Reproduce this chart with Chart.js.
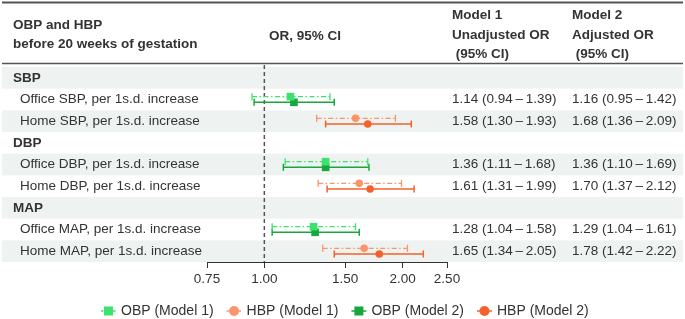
<html>
<head>
<script src="https://cdn.jsdelivr.net/npm/chart.js"></script>
<style>
  body { margin: 0; background: #fff; }
</style>
</head>
<body>
<canvas id="myChart" width="685" height="319"></canvas>
<script>
// rows of the table (top to bottom)
const rowLabels = ['SBP', 'Office SBP, per 1s.d. increase', 'Home SBP, per 1s.d. increase',
                   'DBP', 'Office DBP, per 1s.d. increase', 'Home DBP, per 1s.d. increase',
                   'MAP', 'Office MAP, per 1s.d. increase', 'Home MAP, per 1s.d. increase'];
const groupRows = [0, 3, 6];
const itemRows = [1, 2, 4, 5, 7, 8];
const itemType = ['OBP', 'HBP', 'OBP', 'HBP', 'OBP', 'HBP'];

// Model 1 (unadjusted)
const m1Or = [1.14, 1.58, 1.36, 1.61, 1.28, 1.65];
const m1Lo = [0.94, 1.30, 1.11, 1.31, 1.04, 1.34];
const m1Hi = [1.39, 1.93, 1.68, 1.99, 1.58, 2.05];
// Model 2 (adjusted)
const m2Or = [1.16, 1.68, 1.36, 1.70, 1.29, 1.78];
const m2Lo = [0.95, 1.36, 1.10, 1.37, 1.04, 1.42];
const m2Hi = [1.42, 2.09, 1.69, 2.12, 1.61, 2.22];

const xTicks = [0.75, 1.00, 1.50, 2.00, 2.50];

const FONT = '"Liberation Sans", Arial, sans-serif';
const TXT = '#333333';
const colors = {
  'OBP1': '#3be36c', 'HBP1': '#f9956a',
  'OBP2': '#17a83d', 'HBP2': '#f5612d'
};
const OFF = 0.13;

function fmt(v) { return v.toFixed(2); }

// CI lines for one type/model, separated by null points
function ciData(type, lo, hi, off) {
  let d = [];
  for (let i = 0; i < itemRows.length; i++) {
    if (itemType[i] != type) continue;
    d.push({x: lo[i], y: itemRows[i] + off});
    d.push({x: hi[i], y: itemRows[i] + off});
    d.push({x: null, y: null});
  }
  return d;
}
function ptData(type, or, off) {
  let d = [];
  for (let i = 0; i < itemRows.length; i++) {
    if (itemType[i] == type) d.push({x: or[i], y: itemRows[i] + off});
  }
  return d;
}

function ciSet(label, type, lo, hi, off, color, dash, w) {
  return {
    label: label, type: 'scatter', showLine: true,
    data: ciData(type, lo, hi, off),
    borderColor: color, borderWidth: w, borderDash: dash,
    pointStyle: 'line', rotation: 90, pointRadius: 3.5, pointHoverRadius: 3.5,
    pointBorderColor: color, pointBorderWidth: w, pointBackgroundColor: color
  };
}
function ptSet(label, type, or, off, color, style, r) {
  return {
    label: label, type: 'scatter',
    data: ptData(type, or, off),
    pointStyle: style, pointRadius: r, pointHoverRadius: r,
    backgroundColor: color, borderColor: color, borderWidth: 0
  };
}

const datasets = [
  ciSet('c1', 'OBP', m1Lo, m1Hi, -OFF, colors.OBP1, [5, 2.5, 1.5, 2.5], 1.3),
  ciSet('c2', 'HBP', m1Lo, m1Hi, -OFF, colors.HBP1, [5, 2.5, 1.5, 2.5], 1.3),
  ciSet('c3', 'OBP', m2Lo, m2Hi, OFF, colors.OBP2, [], 1.5),
  ciSet('c4', 'HBP', m2Lo, m2Hi, OFF, colors.HBP2, [], 1.5),
  ptSet('OBP (Model 1)', 'OBP', m1Or, -OFF, colors.OBP1, 'rect', 5.4),
  ptSet('HBP (Model 1)', 'HBP', m1Or, -OFF, colors.HBP1, 'circle', 3.8),
  ptSet('OBP (Model 2)', 'OBP', m2Or, OFF, colors.OBP2, 'rect', 5.4),
  ptSet('HBP (Model 2)', 'HBP', m2Or, OFF, colors.HBP2, 'circle', 3.8)
];

const tablePlugin = {
  id: 'table',
  beforeDraw(chart) {
    const ctx = chart.ctx;
    const ys = chart.scales.y;
    ctx.save();
    ctx.fillStyle = '#fff';
    ctx.fillRect(0, 0, chart.width, chart.height);
    // row shading
    ctx.fillStyle = '#eef3f1';
    for (let r = 0; r < rowLabels.length; r += 2) {
      const t = ys.getPixelForValue(r - 0.5), b = ys.getPixelForValue(r + 0.5);
      ctx.fillRect(2, t, 681, b - t);
    }
    // header lines
    ctx.strokeStyle = '#555';
    ctx.lineWidth = 2;
    ctx.beginPath(); ctx.moveTo(2, 2.5); ctx.lineTo(683, 2.5); ctx.stroke();
    ctx.lineWidth = 1.6;
    ctx.beginPath(); ctx.moveTo(2, 63.5); ctx.lineTo(683, 63.5); ctx.stroke();
    ctx.restore();
  },
  beforeDatasetsDraw(chart) {
    const ctx = chart.ctx;
    const x = chart.scales.x.getPixelForValue(1);
    ctx.save();
    ctx.strokeStyle = '#555';
    ctx.lineWidth = 1.5;
    ctx.setLineDash([4, 3]);
    ctx.beginPath(); ctx.moveTo(x, 65); ctx.lineTo(x, chart.chartArea.bottom); ctx.stroke();
    ctx.restore();
  },
  afterDraw(chart) {
    const ctx = chart.ctx;
    const ys = chart.scales.y;
    ctx.save();
    ctx.fillStyle = TXT;
    ctx.textBaseline = 'middle';
    ctx.textAlign = 'left';
    // header
    ctx.font = 'bold 13.5px ' + FONT;
    ctx.fillText('OBP and HBP', 13, 25);
    ctx.fillText('before 20 weeks of gestation', 13, 44);
    ctx.textAlign = 'center';
    ctx.fillText('OR, 95% CI', 305, 36);
    ctx.textAlign = 'left';
    ctx.fillText('Model 1', 452, 15);
    ctx.fillText('Unadjusted OR', 452, 35);
    ctx.fillText(' (95% CI)', 452, 54);
    ctx.fillText('Model 2', 572, 15);
    ctx.fillText('Adjusted OR', 572, 35);
    ctx.fillText(' (95% CI)', 572, 54);
    // row labels
    for (let r = 0; r < rowLabels.length; r++) {
      const y = ys.getPixelForValue(r);
      if (groupRows.includes(r)) {
        ctx.font = 'bold 13.5px ' + FONT;
        ctx.fillText(rowLabels[r], 13, y);
      } else {
        ctx.font = '13.5px ' + FONT;
        ctx.fillText(rowLabels[r], 20, y);
      }
    }
    // estimates
    ctx.font = '13.5px ' + FONT;
    for (let i = 0; i < itemRows.length; i++) {
      const y = ys.getPixelForValue(itemRows[i]);
      ctx.fillText(fmt(m1Or[i]) + ' (' + fmt(m1Lo[i]) + '\u2009\u2013\u2009' + fmt(m1Hi[i]) + ')', 452, y);
      ctx.fillText(fmt(m2Or[i]) + ' (' + fmt(m2Lo[i]) + '\u2009\u2013\u2009' + fmt(m2Hi[i]) + ')', 572, y);
    }
    // legend
    const items = datasets.slice(4);
    ctx.font = '14px ' + FONT;
    const widths = items.map(d => 20 + ctx.measureText(d.label).width);
    const gap = 13;
    let x = 101;
    const ly = 311;
    items.forEach((d, k) => {
      const ci = datasets[k];
      ctx.strokeStyle = d.backgroundColor;
      ctx.lineWidth = ci.borderWidth;
      ctx.setLineDash(ci.borderDash.length ? [2.5, 1.5] : []);
      ctx.beginPath(); ctx.moveTo(x, ly); ctx.lineTo(x + 15, ly); ctx.stroke();
      ctx.setLineDash([]);
      ctx.fillStyle = d.backgroundColor;
      if (d.pointStyle == 'rect') {
        ctx.fillRect(x + 3, ly - 4.5, 9, 9);
      } else {
        ctx.beginPath(); ctx.arc(x + 7.5, ly, 5, 0, Math.PI * 2); ctx.fill();
      }
      ctx.fillStyle = TXT;
      ctx.fillText(d.label, x + 20, ly);
      x += widths[k] + gap;
    });
    ctx.restore();
  }
};

new Chart(document.getElementById('myChart'), {
  type: 'scatter',
  data: { datasets: datasets },
  options: {
    responsive: false,
    animation: false,
    layout: { padding: { left: 207, right: 238, top: 67, bottom: 27 } },
    plugins: { legend: { display: false }, tooltip: { enabled: false } },
    scales: {
      x: {
        type: 'logarithmic', min: 0.75, max: 2.5,
        afterBuildTicks: (axis) => { axis.ticks = xTicks.map(v => ({ value: v })); },
        afterFit: (axis) => { axis.height = 30; },
        ticks: {
          autoSkip: false, maxRotation: 0, padding: 3, color: TXT,
          font: { size: 13.5, family: FONT },
          callback: (v) => Number(v).toFixed(2)
        },
        grid: { display: true, drawOnChartArea: false, drawTicks: true, tickLength: 6, color: '#333' },
        border: { display: true, color: '#333', width: 1 }
      },
      y: { type: 'linear', display: false, min: -0.5, max: 8.5, reverse: true }
    }
  },
  plugins: [tablePlugin]
});
</script>
</body>
</html>
